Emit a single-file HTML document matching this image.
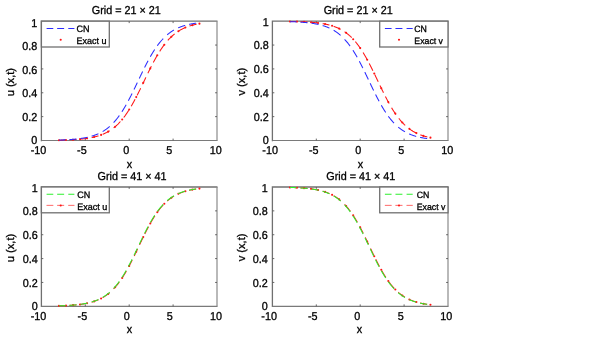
<!DOCTYPE html>
<html lang="en"><head><meta charset="utf-8"><title>Grid comparison: CN vs Exact</title>
<style>
html,body{margin:0;padding:0;background:#fff;}
body{width:602px;height:340px;overflow:hidden;}
svg{display:block;}
svg text{text-rendering:geometricPrecision;font-family:"Liberation Sans",Arial,Helvetica,sans-serif;fill:#000;stroke:#000;stroke-width:0.3px;}
</style></head><body>
<svg width="602" height="340" viewBox="0 0 602 340">
<rect width="602" height="340" fill="#fff"/>
<g>
<path d="M41.4 141.15V21.2H217.5" fill="none" stroke="#707070" stroke-width="1.3" stroke-linejoin="miter"/>
<path d="M41.4 140.5H217.55" fill="none" stroke="#7a7a7a" stroke-width="1.2"/>
<path d="M217 21.2V140.5" fill="none" stroke="#868686" stroke-width="1.15"/>
<path d="M85.3 140.5v-1.9M85.3 21.2v1.9" stroke="#585858" stroke-width="0.9" fill="none"/>
<path d="M129.2 140.5v-1.9M129.2 21.2v1.9" stroke="#585858" stroke-width="0.9" fill="none"/>
<path d="M173.1 140.5v-1.9M173.1 21.2v1.9" stroke="#585858" stroke-width="0.9" fill="none"/>
<path d="M41.4 45.06h1.9M217 45.06h-1.9" stroke="#585858" stroke-width="0.9" fill="none"/>
<path d="M41.4 68.92h1.9M217 68.92h-1.9" stroke="#585858" stroke-width="0.9" fill="none"/>
<path d="M41.4 92.78h1.9M217 92.78h-1.9" stroke="#585858" stroke-width="0.9" fill="none"/>
<path d="M41.4 116.64h1.9M217 116.64h-1.9" stroke="#585858" stroke-width="0.9" fill="none"/>
<path d="M58.96 140.19L59.18 140.19L59.4 140.18L59.62 140.18L59.84 140.17L60.06 140.17L60.28 140.16L60.5 140.16L60.72 140.15L60.94 140.15L61.16 140.14L61.37 140.14L61.59 140.13L61.81 140.13L62.03 140.12L62.25 140.11L62.47 140.11L62.69 140.1L62.91 140.1L63.13 140.09L63.35 140.08L63.57 140.08L63.79 140.07L64.01 140.06L64.23 140.06L64.45 140.05L64.67 140.04L64.89 140.04L65.11 140.03L65.33 140.02L65.55 140.02M69.5 139.86L69.72 139.85L69.94 139.84L70.15 139.83L70.37 139.82L70.59 139.81L70.81 139.8L71.03 139.79L71.25 139.78L71.47 139.77L71.69 139.76L71.91 139.74L72.13 139.73L72.35 139.72L72.57 139.71L72.79 139.7L73.01 139.69L73.23 139.67L73.45 139.66L73.67 139.65L73.89 139.63L74.11 139.62L74.32 139.61L74.54 139.59L74.76 139.58L74.98 139.57L75.2 139.55L75.42 139.54L75.64 139.52L75.86 139.51L76.08 139.49L76.3 139.48L76.52 139.46M80.47 139.13L80.69 139.11L80.91 139.09L81.13 139.07L81.35 139.05L81.57 139.03L81.79 139L82.01 138.98L82.23 138.96L82.45 138.93L82.67 138.91L82.89 138.89L83.1 138.86L83.32 138.84L83.54 138.81L83.76 138.78L83.98 138.76L84.2 138.73L84.42 138.7L84.64 138.68L84.86 138.65L85.08 138.62L85.3 138.59L85.52 138.56L85.74 138.53L85.96 138.5L86.18 138.47L86.4 138.44L86.62 138.41L86.84 138.38L87.06 138.35L87.28 138.32L87.5 138.28M91.67 137.55L91.88 137.51L92.1 137.46L92.32 137.41L92.54 137.37L92.76 137.32L92.98 137.27L93.2 137.22L93.42 137.18L93.64 137.13L93.86 137.07L94.08 137.02L94.3 136.97L94.52 136.92L94.74 136.86L94.96 136.81L95.18 136.75L95.4 136.7L95.62 136.64L95.84 136.58L96.06 136.53L96.28 136.47L96.49 136.41L96.71 136.34L96.93 136.28L97.15 136.22L97.37 136.16L97.59 136.09L97.81 136.03L98.03 135.96L98.25 135.89L98.47 135.82M102.64 134.32L102.86 134.23L103.08 134.14L103.3 134.05L103.52 133.95L103.74 133.86L103.96 133.76L104.18 133.66L104.4 133.56L104.62 133.46L104.84 133.36L105.05 133.25L105.27 133.15L105.49 133.04L105.71 132.93L105.93 132.82L106.15 132.71L106.37 132.6L106.59 132.49L106.81 132.37L107.03 132.25L107.25 132.14L107.47 132.02L107.69 131.89L107.91 131.77L108.13 131.65L108.35 131.52L108.57 131.39L108.79 131.26L109.01 131.13L109.23 130.99L109.44 130.86L109.66 130.72M113.62 127.94L113.83 127.77L114.05 127.59L114.27 127.41L114.49 127.23L114.71 127.05L114.93 126.87L115.15 126.68L115.37 126.49L115.59 126.3L115.81 126.11L116.03 125.91L116.25 125.71L116.47 125.51L116.69 125.31L116.91 125.11L117.13 124.9L117.35 124.69L117.57 124.48L117.79 124.26L118.01 124.05L118.22 123.83L118.44 123.61L118.66 123.38L118.88 123.16L119.1 122.93L119.32 122.7L119.54 122.46L119.76 122.23L119.98 121.99L120.2 121.75L120.42 121.5M123.71 117.53L123.93 117.25L124.15 116.96L124.37 116.67L124.59 116.37L124.81 116.07L125.03 115.78L125.25 115.47L125.47 115.17L125.69 114.86L125.91 114.55L126.13 114.24L126.35 113.92L126.57 113.6L126.79 113.28L127 112.96L127.22 112.63L127.44 112.3L127.66 111.97L127.88 111.64L128.1 111.3L128.32 110.96L128.54 110.62L128.76 110.27M131.18 106.3L131.39 105.93L131.61 105.55L131.83 105.17L132.05 104.79L132.27 104.4L132.49 104.01L132.71 103.62L132.93 103.23L133.15 102.84L133.37 102.44L133.59 102.04L133.81 101.64L134.03 101.24L134.25 100.83L134.47 100.43L134.69 100.02L134.91 99.6L135.13 99.19M137.1 95.38L137.32 94.95L137.54 94.52L137.76 94.09L137.98 93.65L138.2 93.21L138.42 92.77L138.64 92.33L138.86 91.89L139.08 91.45L139.3 91.01L139.52 90.56L139.74 90.11L139.96 89.67L140.17 89.22L140.39 88.77L140.61 88.32M142.59 84.23L142.81 83.78L143.03 83.32L143.25 82.86L143.47 82.41L143.69 81.95L143.91 81.49L144.13 81.03L144.35 80.58L144.56 80.12L144.78 79.66L145 79.2L145.22 78.74L145.44 78.29L145.66 77.83L145.88 77.37M147.86 73.29L148.08 72.84L148.3 72.39L148.52 71.94L148.74 71.5L148.96 71.05L149.17 70.61L149.39 70.16L149.61 69.72L149.83 69.28L150.05 68.84L150.27 68.4L150.49 67.96L150.71 67.53L150.93 67.09L151.15 66.66L151.37 66.23M153.34 62.43L153.56 62.01L153.78 61.6L154 61.19L154.22 60.79L154.44 60.38L154.66 59.98L154.88 59.58L155.1 59.18L155.32 58.78L155.54 58.39L155.76 58L155.98 57.61L156.2 57.22L156.42 56.84L156.64 56.45L156.86 56.07L157.08 55.7L157.3 55.32M159.71 51.36L159.93 51.01L160.15 50.67L160.37 50.33L160.59 50L160.81 49.66L161.03 49.33L161.25 49L161.47 48.68L161.69 48.35L161.91 48.03L162.12 47.72L162.34 47.4L162.56 47.09L162.78 46.78L163 46.47L163.22 46.17L163.44 45.86L163.66 45.57L163.88 45.27L164.1 44.98L164.32 44.68L164.54 44.4M167.83 40.39L168.05 40.15L168.27 39.9L168.49 39.66L168.71 39.43L168.93 39.19L169.15 38.96L169.37 38.73L169.59 38.5L169.81 38.27L170.03 38.05L170.25 37.83L170.47 37.61L170.69 37.39L170.91 37.18L171.12 36.97L171.34 36.76L171.56 36.55L171.78 36.35L172 36.15L172.22 35.95L172.44 35.75L172.66 35.55L172.88 35.36L173.1 35.17L173.32 34.98L173.54 34.8L173.76 34.61L173.98 34.43L174.2 34.25L174.42 34.07L174.64 33.9M178.59 31.09L178.81 30.95L179.03 30.81L179.25 30.68L179.47 30.55L179.69 30.41L179.9 30.28L180.12 30.16L180.34 30.03L180.56 29.91L180.78 29.78L181 29.66L181.22 29.54L181.44 29.42L181.66 29.31L181.88 29.19L182.1 29.08L182.32 28.96L182.54 28.85L182.76 28.74L182.98 28.64L183.2 28.53L183.42 28.43L183.64 28.32L183.86 28.22L184.07 28.12L184.29 28.02L184.51 27.92L184.73 27.83L184.95 27.73L185.17 27.64L185.39 27.54L185.61 27.45M189.56 26L189.78 25.93L190 25.86L190.22 25.8L190.44 25.73L190.66 25.66L190.88 25.6L191.1 25.53L191.32 25.47L191.54 25.41L191.76 25.34L191.98 25.28L192.2 25.22L192.42 25.16L192.64 25.1L192.86 25.05L193.07 24.99L193.29 24.93L193.51 24.88L193.73 24.82L193.95 24.77L194.17 24.72L194.39 24.67L194.61 24.62L194.83 24.56L195.05 24.51L195.27 24.47L195.49 24.42L195.71 24.37L195.93 24.32L196.15 24.28L196.37 24.23L196.59 24.19" fill="none" stroke="#ff1414" stroke-width="1.05"/>
<circle cx="58.96" cy="140.19" r="1.05" fill="#ff1414"/>
<circle cx="65.98" cy="140" r="1.05" fill="#ff1414"/>
<circle cx="73.01" cy="139.69" r="1.05" fill="#ff1414"/>
<circle cx="80.03" cy="139.17" r="1.05" fill="#ff1414"/>
<circle cx="87.06" cy="138.35" r="1.05" fill="#ff1414"/>
<circle cx="94.08" cy="137.02" r="1.05" fill="#ff1414"/>
<circle cx="101.1" cy="134.92" r="1.05" fill="#ff1414"/>
<circle cx="108.13" cy="131.65" r="1.05" fill="#ff1414"/>
<circle cx="115.15" cy="126.68" r="1.05" fill="#ff1414"/>
<circle cx="122.18" cy="119.46" r="1.05" fill="#ff1414"/>
<circle cx="129.2" cy="109.57" r="1.05" fill="#ff1414"/>
<circle cx="136.22" cy="97.09" r="1.05" fill="#ff1414"/>
<circle cx="143.25" cy="82.86" r="1.05" fill="#ff1414"/>
<circle cx="150.27" cy="68.4" r="1.05" fill="#ff1414"/>
<circle cx="157.3" cy="55.32" r="1.05" fill="#ff1414"/>
<circle cx="164.32" cy="44.68" r="1.05" fill="#ff1414"/>
<circle cx="171.34" cy="36.76" r="1.05" fill="#ff1414"/>
<circle cx="178.37" cy="31.23" r="1.05" fill="#ff1414"/>
<circle cx="185.39" cy="27.54" r="1.05" fill="#ff1414"/>
<circle cx="192.42" cy="25.16" r="1.05" fill="#ff1414"/>
<circle cx="199.44" cy="23.66" r="1.05" fill="#ff1414"/>
<path d="M58.96 140.06L59.18 140.05L59.4 140.04L59.62 140.04L59.84 140.03L60.06 140.02L60.28 140.01L60.5 140.01L60.72 140L60.94 139.99L61.16 139.98L61.37 139.98L61.59 139.97L61.81 139.96L62.03 139.95L62.25 139.94L62.47 139.93L62.69 139.92L62.91 139.92L63.13 139.91L63.35 139.9L63.57 139.89L63.79 139.88L64.01 139.87L64.23 139.86L64.45 139.85L64.67 139.84L64.89 139.83L65.11 139.82L65.33 139.81L65.55 139.8M69.5 139.57L69.72 139.56L69.94 139.54L70.15 139.53L70.37 139.51L70.59 139.5L70.81 139.48L71.03 139.47L71.25 139.45L71.47 139.43L71.69 139.42L71.91 139.4L72.13 139.38L72.35 139.37L72.57 139.35L72.79 139.33L73.01 139.31L73.23 139.29L73.45 139.28L73.67 139.26L73.89 139.24L74.11 139.22L74.32 139.2L74.54 139.18L74.76 139.16L74.98 139.14L75.2 139.12L75.42 139.1L75.64 139.07L75.86 139.05L76.08 139.03L76.3 139.01L76.52 138.98M80.47 138.5L80.69 138.47L80.91 138.44L81.13 138.41L81.35 138.38L81.57 138.35L81.79 138.31L82.01 138.28L82.23 138.24L82.45 138.21L82.67 138.18L82.89 138.14L83.1 138.1L83.32 138.07L83.54 138.03L83.76 137.99L83.98 137.95L84.2 137.91L84.42 137.88L84.64 137.84L84.86 137.79L85.08 137.75L85.3 137.71L85.52 137.67L85.74 137.63L85.96 137.58L86.18 137.54L86.4 137.49L86.62 137.45L86.84 137.4L87.06 137.35L87.28 137.3L87.5 137.26M91.67 136.19L91.88 136.12L92.1 136.06L92.32 135.99L92.54 135.92L92.76 135.85L92.98 135.78L93.2 135.71L93.42 135.64L93.64 135.57L93.86 135.49L94.08 135.42L94.3 135.34L94.52 135.26L94.74 135.19L94.96 135.11L95.18 135.03L95.4 134.95L95.62 134.86L95.84 134.78L96.06 134.69L96.28 134.61L96.49 134.52L96.71 134.43L96.93 134.34L97.15 134.25L97.37 134.16L97.59 134.06L97.81 133.97L98.03 133.87L98.25 133.78L98.47 133.68M102.64 131.52L102.86 131.39L103.08 131.26L103.3 131.12L103.52 130.99L103.74 130.85L103.96 130.71L104.18 130.57L104.4 130.43L104.62 130.29L104.84 130.14L105.05 129.99L105.27 129.84L105.49 129.69L105.71 129.54L105.93 129.38L106.15 129.23L106.37 129.07L106.59 128.91L106.81 128.74L107.03 128.58L107.25 128.41L107.47 128.24L107.69 128.07L107.91 127.9L108.13 127.72L108.35 127.54L108.57 127.36L108.79 127.18L109.01 126.99L109.23 126.81L109.44 126.62L109.66 126.43M113.62 122.58L113.83 122.34L114.05 122.1L114.27 121.86L114.49 121.61L114.71 121.37L114.93 121.12L115.15 120.86L115.37 120.61L115.59 120.35L115.81 120.09L116.03 119.83L116.25 119.56L116.47 119.29L116.69 119.02L116.91 118.74L117.13 118.47L117.35 118.19L117.57 117.9L117.79 117.62L118.01 117.33L118.22 117.04L118.44 116.75L118.66 116.45L118.88 116.15L119.1 115.85L119.32 115.55M121.96 111.68L122.18 111.34L122.4 110.99L122.62 110.65L122.83 110.3L123.05 109.95L123.27 109.6L123.49 109.24L123.71 108.88L123.93 108.52L124.15 108.15L124.37 107.79L124.59 107.42L124.81 107.05L125.03 106.67L125.25 106.3L125.47 105.92L125.69 105.53L125.91 105.15L126.13 104.76M128.32 100.77L128.54 100.35L128.76 99.94L128.98 99.52L129.2 99.11L129.42 98.69L129.64 98.27L129.86 97.84L130.08 97.42L130.3 96.99L130.52 96.56L130.74 96.13L130.96 95.69L131.18 95.26L131.39 94.82L131.61 94.39L131.83 93.95L132.05 93.51M134.03 89.48L134.25 89.03L134.47 88.57L134.69 88.12L134.91 87.66L135.13 87.21L135.35 86.75L135.57 86.29L135.78 85.83L136 85.37L136.22 84.91L136.44 84.45L136.66 83.99L136.88 83.53L137.1 83.07L137.32 82.61M139.3 78.45L139.52 77.99L139.74 77.52L139.96 77.06L140.17 76.6L140.39 76.14L140.61 75.69L140.83 75.23L141.05 74.77L141.27 74.31L141.49 73.86L141.71 73.4L141.93 72.95L142.15 72.49L142.37 72.04L142.59 71.59M144.56 67.58L144.78 67.14L145 66.7L145.22 66.27L145.44 65.83L145.66 65.4L145.88 64.97L146.1 64.54L146.32 64.11L146.54 63.69L146.76 63.27L146.98 62.84L147.2 62.43L147.42 62.01L147.64 61.59L147.86 61.18L148.08 60.77M150.27 56.78L150.49 56.4L150.71 56.01L150.93 55.63L151.15 55.25L151.37 54.88L151.59 54.5L151.81 54.13L152.03 53.77L152.25 53.4L152.47 53.04L152.69 52.68L152.91 52.32L153.13 51.96L153.34 51.61L153.56 51.26L153.78 50.91L154 50.57L154.22 50.23L154.44 49.89L154.66 49.55M157.3 45.73L157.52 45.43L157.73 45.13L157.95 44.84L158.17 44.54L158.39 44.25L158.61 43.97L158.83 43.68L159.05 43.4L159.27 43.12L159.49 42.85L159.71 42.57L159.93 42.3L160.15 42.03L160.37 41.77L160.59 41.51L160.81 41.25L161.03 40.99L161.25 40.74L161.47 40.48L161.69 40.23L161.91 39.99L162.12 39.74L162.34 39.5L162.56 39.26L162.78 39.03L163 38.79L163.22 38.56M167.17 34.82L167.39 34.63L167.61 34.45L167.83 34.27L168.05 34.09L168.27 33.91L168.49 33.74L168.71 33.56L168.93 33.39L169.15 33.22L169.37 33.06L169.59 32.89L169.81 32.73L170.03 32.57L170.25 32.41L170.47 32.25L170.69 32.1L170.91 31.95L171.12 31.8L171.34 31.65L171.56 31.5L171.78 31.36L172 31.21L172.22 31.07L172.44 30.93L172.66 30.79L172.88 30.66L173.1 30.52L173.32 30.39L173.54 30.26L173.76 30.13L173.98 30.01M178.15 27.89L178.37 27.79L178.59 27.69L178.81 27.6L179.03 27.5L179.25 27.41L179.47 27.32L179.69 27.23L179.9 27.14L180.12 27.06L180.34 26.97L180.56 26.89L180.78 26.8L181 26.72L181.22 26.64L181.44 26.56L181.66 26.48L181.88 26.4L182.1 26.33L182.32 26.25L182.54 26.18L182.76 26.1L182.98 26.03L183.2 25.96L183.42 25.89L183.64 25.82L183.86 25.75L184.07 25.68L184.29 25.62L184.51 25.55L184.73 25.49L184.95 25.42L185.17 25.36M189.12 24.38L189.34 24.33L189.56 24.28L189.78 24.24L190 24.19L190.22 24.14L190.44 24.1L190.66 24.06L190.88 24.01L191.1 23.97L191.32 23.93L191.54 23.89L191.76 23.85L191.98 23.81L192.2 23.77L192.42 23.73L192.64 23.69L192.86 23.66L193.07 23.62L193.29 23.58L193.51 23.55L193.73 23.51L193.95 23.48L194.17 23.44L194.39 23.41L194.61 23.37L194.83 23.34L195.05 23.31L195.27 23.28L195.49 23.25L195.71 23.21L195.93 23.18L196.15 23.15" fill="none" stroke="#2a2aff" stroke-width="1.05"/>
<text transform="translate(38.5 154.1) scale(1 1.06)" text-anchor="middle" font-size="10.8">-10</text>
<text transform="translate(81.9 154.1) scale(1 1.06)" text-anchor="middle" font-size="10.8">-5</text>
<text transform="translate(126.3 154.1) scale(1 1.06)" text-anchor="middle" font-size="10.8">0</text>
<text transform="translate(169.3 154.1) scale(1 1.06)" text-anchor="middle" font-size="10.8">5</text>
<text transform="translate(215.7 154.1) scale(1 1.06)" text-anchor="middle" font-size="10.8">10</text>
<text transform="translate(37.35 26.7) scale(1 1.06)" text-anchor="end" font-size="10.8">1</text>
<text transform="translate(37.35 49.66) scale(1 1.06)" text-anchor="end" font-size="10.8">0.8</text>
<text transform="translate(37.35 73.52) scale(1 1.06)" text-anchor="end" font-size="10.8">0.6</text>
<text transform="translate(37.35 97.38) scale(1 1.06)" text-anchor="end" font-size="10.8">0.4</text>
<text transform="translate(37.35 121.24) scale(1 1.06)" text-anchor="end" font-size="10.8">0.2</text>
<text transform="translate(37.35 144.1) scale(1 1.06)" text-anchor="end" font-size="10.8">0</text>
<text transform="translate(126.3 14.45) scale(1 1.06)" text-anchor="middle" font-size="10.8">Grid = 21 × 21</text>
<text transform="translate(129.5 167.5) scale(1 1.06)" text-anchor="middle" font-size="10.8">x</text>
<text transform="translate(14.4 82.19) rotate(-90) scale(1 1.0)" text-anchor="middle" font-size="11.1">u (x,t)</text>
<rect x="41.4" y="21.2" width="67.9" height="25.8" fill="#fff" stroke="#707070" stroke-width="1.3"/>
<path d="M46.6 28.4L46.88 28.4L47.16 28.4L47.43 28.4L47.71 28.4L47.99 28.4L48.27 28.4L48.55 28.4L48.82 28.4L49.1 28.4L49.38 28.4L49.66 28.4L49.94 28.4L50.21 28.4L50.49 28.4L50.77 28.4L51.05 28.4L51.33 28.4L51.6 28.4L51.88 28.4L52.16 28.4L52.44 28.4L52.72 28.4L52.99 28.4L53.27 28.4M57.16 28.4L57.44 28.4L57.72 28.4L58 28.4L58.28 28.4L58.55 28.4L58.83 28.4L59.11 28.4L59.39 28.4L59.67 28.4L59.94 28.4L60.22 28.4L60.5 28.4L60.78 28.4L61.06 28.4L61.33 28.4L61.61 28.4L61.89 28.4L62.17 28.4L62.45 28.4L62.72 28.4L63 28.4L63.28 28.4L63.56 28.4L63.84 28.4L64.11 28.4M68.28 28.4L68.56 28.4L68.84 28.4L69.12 28.4L69.4 28.4L69.67 28.4L69.95 28.4L70.23 28.4L70.51 28.4L70.79 28.4L71.06 28.4L71.34 28.4L71.62 28.4L71.9 28.4L72.18 28.4L72.45 28.4L72.73 28.4L73.01 28.4L73.29 28.4L73.57 28.4L73.84 28.4L74.12 28.4L74.4 28.4" stroke="#2a2aff" stroke-width="1.05" fill="none"/>
<circle cx="60.7" cy="39.7" r="1.05" fill="#ff1414"/>
<text transform="translate(76.6 32.2) scale(1 1.04)" font-size="9.0">CN</text>
<text transform="translate(76.6 43.7) scale(1 1.04)" font-size="9.0">Exact u</text>
</g>
<g>
<path d="M272.4 141.15V21.2H448.5" fill="none" stroke="#707070" stroke-width="1.3" stroke-linejoin="miter"/>
<path d="M272.4 140.5H448.55" fill="none" stroke="#7a7a7a" stroke-width="1.2"/>
<path d="M448 21.2V140.5" fill="none" stroke="#868686" stroke-width="1.15"/>
<path d="M316.3 140.5v-1.9M316.3 21.2v1.9" stroke="#585858" stroke-width="0.9" fill="none"/>
<path d="M360.2 140.5v-1.9M360.2 21.2v1.9" stroke="#585858" stroke-width="0.9" fill="none"/>
<path d="M404.1 140.5v-1.9M404.1 21.2v1.9" stroke="#585858" stroke-width="0.9" fill="none"/>
<path d="M272.4 45.06h1.9M448 45.06h-1.9" stroke="#585858" stroke-width="0.9" fill="none"/>
<path d="M272.4 68.92h1.9M448 68.92h-1.9" stroke="#585858" stroke-width="0.9" fill="none"/>
<path d="M272.4 92.78h1.9M448 92.78h-1.9" stroke="#585858" stroke-width="0.9" fill="none"/>
<path d="M272.4 116.64h1.9M448 116.64h-1.9" stroke="#585858" stroke-width="0.9" fill="none"/>
<path d="M289.96 21.45L290.18 21.45L290.4 21.46L290.62 21.46L290.84 21.46L291.06 21.47L291.28 21.47L291.5 21.48L291.72 21.48L291.94 21.48L292.15 21.49L292.37 21.49L292.59 21.5L292.81 21.5L293.03 21.51L293.25 21.51L293.47 21.52L293.69 21.52L293.91 21.53L294.13 21.53L294.35 21.54L294.57 21.54L294.79 21.55L295.01 21.55L295.23 21.56L295.45 21.56L295.67 21.57L295.89 21.58L296.11 21.58L296.33 21.59L296.54 21.59M300.5 21.72L300.72 21.73L300.94 21.73L301.15 21.74L301.37 21.75L301.59 21.76L301.81 21.77L302.03 21.78L302.25 21.79L302.47 21.8L302.69 21.8L302.91 21.81L303.13 21.82L303.35 21.83L303.57 21.84L303.79 21.85L304.01 21.86L304.23 21.87L304.45 21.88L304.67 21.89L304.89 21.91L305.11 21.92L305.32 21.93L305.54 21.94L305.76 21.95L305.98 21.96L306.2 21.97L306.42 21.98L306.64 22L306.86 22.01L307.08 22.02L307.3 22.03L307.52 22.05M311.47 22.32L311.69 22.33L311.91 22.35L312.13 22.37L312.35 22.39L312.57 22.41L312.79 22.42L313.01 22.44L313.23 22.46L313.45 22.48L313.67 22.5L313.89 22.52L314.1 22.54L314.32 22.56L314.54 22.58L314.76 22.6L314.98 22.63L315.2 22.65L315.42 22.67L315.64 22.69L315.86 22.72L316.08 22.74L316.3 22.76L316.52 22.79L316.74 22.81L316.96 22.84L317.18 22.86L317.4 22.89L317.62 22.91L317.84 22.94L318.06 22.96L318.28 22.99L318.5 23.02M322.67 23.63L322.88 23.66L323.1 23.7L323.32 23.74L323.54 23.78L323.76 23.82L323.98 23.86L324.2 23.9L324.42 23.94L324.64 23.98L324.86 24.02L325.08 24.06L325.3 24.11L325.52 24.15L325.74 24.2L325.96 24.24L326.18 24.29L326.4 24.34L326.62 24.38L326.84 24.43L327.06 24.48L327.27 24.53L327.49 24.58L327.71 24.63L327.93 24.68L328.15 24.73L328.37 24.79L328.59 24.84L328.81 24.9L329.03 24.95L329.25 25.01L329.47 25.07M333.64 26.33L333.86 26.4L334.08 26.48L334.3 26.56L334.52 26.64L334.74 26.72L334.96 26.8L335.18 26.89L335.4 26.97L335.62 27.06L335.84 27.14L336.05 27.23L336.27 27.32L336.49 27.41L336.71 27.5L336.93 27.59L337.15 27.69L337.37 27.78L337.59 27.88L337.81 27.98L338.03 28.08L338.25 28.18L338.47 28.28L338.69 28.38L338.91 28.49L339.13 28.59L339.35 28.7L339.57 28.81L339.79 28.92L340.01 29.03L340.23 29.15L340.44 29.26L340.66 29.38M344.62 31.77L344.83 31.92L345.05 32.07L345.27 32.22L345.49 32.38L345.71 32.54L345.93 32.69L346.15 32.86L346.37 33.02L346.59 33.18L346.81 33.35L347.03 33.52L347.25 33.69L347.47 33.87L347.69 34.04L347.91 34.22L348.13 34.4L348.35 34.58L348.57 34.77L348.79 34.95L349.01 35.14L349.22 35.34L349.44 35.53L349.66 35.72L349.88 35.92L350.1 36.12L350.32 36.33L350.54 36.53L350.76 36.74L350.98 36.95L351.2 37.16L351.42 37.37L351.64 37.59M355.37 41.67L355.59 41.93L355.81 42.2L356.03 42.46L356.25 42.74L356.47 43.01L356.69 43.29L356.91 43.56L357.13 43.85L357.35 44.13L357.57 44.42L357.79 44.71L358 45L358.22 45.3L358.44 45.59L358.66 45.9L358.88 46.2L359.1 46.51L359.32 46.82L359.54 47.13L359.76 47.44L359.98 47.76L360.2 48.08L360.42 48.4L360.64 48.73M363.05 52.49L363.27 52.84L363.49 53.2L363.71 53.57L363.93 53.93L364.15 54.3L364.37 54.67L364.59 55.04L364.81 55.42L365.03 55.8L365.25 56.18L365.47 56.56L365.69 56.95L365.91 57.33L366.13 57.72L366.35 58.12L366.57 58.51L366.78 58.91L367 59.31L367.22 59.71M369.2 63.42L369.42 63.84L369.64 64.26L369.86 64.69L370.08 65.12L370.3 65.55L370.52 65.98L370.74 66.41L370.96 66.84L371.17 67.28L371.39 67.72L371.61 68.16L371.83 68.6L372.05 69.04L372.27 69.48L372.49 69.92L372.71 70.37L372.93 70.82M374.69 74.43L374.91 74.88L375.13 75.34L375.35 75.8L375.56 76.25L375.78 76.71L376 77.17L376.22 77.63L376.44 78.09L376.66 78.55L376.88 79.01L377.1 79.47L377.32 79.93L377.54 80.39L377.76 80.85L377.98 81.31L378.2 81.77M379.95 85.45L380.17 85.9L380.39 86.36L380.61 86.82L380.83 87.27L381.05 87.73L381.27 88.18L381.49 88.63L381.71 89.08L381.93 89.54L382.15 89.99L382.37 90.44L382.59 90.88L382.81 91.33L383.03 91.78L383.25 92.22L383.47 92.66M385.44 96.58L385.66 97.01L385.88 97.44L386.1 97.86L386.32 98.28L386.54 98.7L386.76 99.12L386.98 99.54L387.2 99.95L387.42 100.36L387.64 100.77L387.86 101.18L388.08 101.59L388.3 101.99L388.52 102.39L388.73 102.79L388.95 103.19L389.17 103.58M391.59 107.77L391.81 108.13L392.03 108.5L392.25 108.86L392.47 109.21L392.69 109.57L392.91 109.92L393.12 110.27L393.34 110.62L393.56 110.96L393.78 111.3L394 111.64L394.22 111.98L394.44 112.31L394.66 112.64L394.88 112.97L395.1 113.3L395.32 113.62L395.54 113.94L395.76 114.26L395.98 114.57M398.83 118.41L399.05 118.69L399.27 118.96L399.49 119.24L399.71 119.5L399.93 119.77L400.15 120.03L400.37 120.29L400.59 120.55L400.81 120.81L401.03 121.06L401.25 121.31L401.47 121.56L401.69 121.8L401.9 122.04L402.12 122.28L402.34 122.52L402.56 122.75L402.78 122.99L403 123.22L403.22 123.44L403.44 123.67L403.66 123.89L403.88 124.11L404.1 124.33L404.32 124.54L404.54 124.75L404.76 124.96L404.98 125.17L405.2 125.37M409.37 128.84L409.59 129.01L409.81 129.16L410.03 129.32L410.25 129.48L410.47 129.63L410.68 129.78L410.9 129.93L411.12 130.08L411.34 130.23L411.56 130.37L411.78 130.51L412 130.65L412.22 130.79L412.44 130.93L412.66 131.06L412.88 131.2L413.1 131.33L413.32 131.46L413.54 131.59L413.76 131.71L413.98 131.84L414.2 131.96L414.42 132.08L414.64 132.2L414.86 132.32L415.07 132.44L415.29 132.55L415.51 132.67L415.73 132.78L415.95 132.89L416.17 133L416.39 133.11M420.34 134.81L420.56 134.9L420.78 134.98L421 135.06L421.22 135.14L421.44 135.22L421.66 135.3L421.88 135.37L422.1 135.45L422.32 135.52L422.54 135.59L422.76 135.67L422.98 135.74L423.2 135.81L423.42 135.88L423.64 135.94L423.86 136.01L424.07 136.08L424.29 136.14L424.51 136.21L424.73 136.27L424.95 136.33L425.17 136.4L425.39 136.46L425.61 136.52L425.83 136.57L426.05 136.63L426.27 136.69L426.49 136.75L426.71 136.8L426.93 136.86L427.15 136.91L427.37 136.97" fill="none" stroke="#ff1414" stroke-width="1.05"/>
<circle cx="289.96" cy="21.45" r="1.05" fill="#ff1414"/>
<circle cx="296.98" cy="21.61" r="1.05" fill="#ff1414"/>
<circle cx="304.01" cy="21.86" r="1.05" fill="#ff1414"/>
<circle cx="311.03" cy="22.28" r="1.05" fill="#ff1414"/>
<circle cx="318.06" cy="22.96" r="1.05" fill="#ff1414"/>
<circle cx="325.08" cy="24.06" r="1.05" fill="#ff1414"/>
<circle cx="332.1" cy="25.82" r="1.05" fill="#ff1414"/>
<circle cx="339.13" cy="28.59" r="1.05" fill="#ff1414"/>
<circle cx="346.15" cy="32.86" r="1.05" fill="#ff1414"/>
<circle cx="353.18" cy="39.18" r="1.05" fill="#ff1414"/>
<circle cx="360.2" cy="48.08" r="1.05" fill="#ff1414"/>
<circle cx="367.22" cy="59.71" r="1.05" fill="#ff1414"/>
<circle cx="374.25" cy="73.52" r="1.05" fill="#ff1414"/>
<circle cx="381.27" cy="88.18" r="1.05" fill="#ff1414"/>
<circle cx="388.3" cy="101.99" r="1.05" fill="#ff1414"/>
<circle cx="395.32" cy="113.62" r="1.05" fill="#ff1414"/>
<circle cx="402.34" cy="122.52" r="1.05" fill="#ff1414"/>
<circle cx="409.37" cy="128.84" r="1.05" fill="#ff1414"/>
<circle cx="416.39" cy="133.11" r="1.05" fill="#ff1414"/>
<circle cx="423.42" cy="135.88" r="1.05" fill="#ff1414"/>
<circle cx="430.44" cy="137.64" r="1.05" fill="#ff1414"/>
<path d="M289.96 21.65L290.18 21.66L290.4 21.66L290.62 21.67L290.84 21.68L291.06 21.68L291.28 21.69L291.5 21.7L291.72 21.71L291.94 21.72L292.15 21.72L292.37 21.73L292.59 21.74L292.81 21.75L293.03 21.76L293.25 21.77L293.47 21.77L293.69 21.78L293.91 21.79L294.13 21.8L294.35 21.81L294.57 21.82L294.79 21.83L295.01 21.84L295.23 21.85L295.45 21.86L295.67 21.87L295.89 21.88L296.11 21.89L296.33 21.9L296.54 21.91M300.5 22.14L300.72 22.15L300.94 22.17L301.15 22.18L301.37 22.2L301.59 22.21L301.81 22.23L302.03 22.25L302.25 22.26L302.47 22.28L302.69 22.3L302.91 22.31L303.13 22.33L303.35 22.35L303.57 22.37L303.79 22.38L304.01 22.4L304.23 22.42L304.45 22.44L304.67 22.46L304.89 22.48L305.11 22.5L305.32 22.52L305.54 22.54L305.76 22.56L305.98 22.58L306.2 22.6L306.42 22.62L306.64 22.64L306.86 22.67L307.08 22.69L307.3 22.71L307.52 22.74M311.47 23.22L311.69 23.25L311.91 23.28L312.13 23.32L312.35 23.35L312.57 23.38L312.79 23.41L313.01 23.45L313.23 23.48L313.45 23.52L313.67 23.55L313.89 23.59L314.1 23.63L314.32 23.66L314.54 23.7L314.76 23.74L314.98 23.78L315.2 23.82L315.42 23.86L315.64 23.9L315.86 23.94L316.08 23.98L316.3 24.02L316.52 24.07L316.74 24.11L316.96 24.15L317.18 24.2L317.4 24.24L317.62 24.29L317.84 24.34L318.06 24.39L318.28 24.43L318.5 24.48M322.67 25.57L322.88 25.63L323.1 25.7L323.32 25.77L323.54 25.83L323.76 25.9L323.98 25.97L324.2 26.05L324.42 26.12L324.64 26.19L324.86 26.27L325.08 26.34L325.3 26.42L325.52 26.5L325.74 26.58L325.96 26.66L326.18 26.74L326.4 26.82L326.62 26.9L326.84 26.99L327.06 27.07L327.27 27.16L327.49 27.25L327.71 27.34L327.93 27.43L328.15 27.52L328.37 27.62L328.59 27.71L328.81 27.81L329.03 27.9L329.25 28L329.47 28.1M333.64 30.29L333.86 30.42L334.08 30.55L334.3 30.69L334.52 30.82L334.74 30.96L334.96 31.1L335.18 31.24L335.4 31.38L335.62 31.53L335.84 31.68L336.05 31.83L336.27 31.98L336.49 32.13L336.71 32.29L336.93 32.44L337.15 32.6L337.37 32.76L337.59 32.92L337.81 33.09L338.03 33.26L338.25 33.43L338.47 33.6L338.69 33.77L338.91 33.95L339.13 34.12L339.35 34.3L339.57 34.48L339.79 34.67L340.01 34.85L340.23 35.04L340.44 35.23L340.66 35.43M344.62 39.31L344.83 39.55L345.05 39.79L345.27 40.04L345.49 40.28L345.71 40.53L345.93 40.79L346.15 41.04L346.37 41.3L346.59 41.56L346.81 41.82L347.03 42.09L347.25 42.36L347.47 42.63L347.69 42.9L347.91 43.18L348.13 43.46L348.35 43.74L348.57 44.02L348.79 44.31L349.01 44.6L349.22 44.89L349.44 45.19L349.66 45.49L349.88 45.79L350.1 46.09M352.96 50.3L353.18 50.64L353.4 50.98L353.62 51.33L353.83 51.68L354.05 52.03L354.27 52.39L354.49 52.75L354.71 53.11L354.93 53.47L355.15 53.84L355.37 54.21L355.59 54.58L355.81 54.95L356.03 55.33L356.25 55.71L356.47 56.09L356.69 56.47L356.91 56.86L357.13 57.25M359.32 61.26L359.54 61.68L359.76 62.09L359.98 62.51L360.2 62.93L360.42 63.35L360.64 63.77L360.86 64.2L361.08 64.63L361.3 65.06L361.52 65.49L361.74 65.92L361.96 66.35L362.18 66.79L362.39 67.23L362.61 67.66L362.83 68.11M364.81 72.13L365.03 72.58L365.25 73.04L365.47 73.49L365.69 73.95L365.91 74.4L366.13 74.86L366.35 75.32L366.57 75.78L366.78 76.24L367 76.7L367.22 77.16L367.44 77.62L367.66 78.08L367.88 78.54L368.1 79L368.32 79.46M370.08 83.16L370.3 83.62L370.52 84.08L370.74 84.54L370.96 85L371.17 85.46L371.39 85.92L371.61 86.38L371.83 86.84L372.05 87.3L372.27 87.75L372.49 88.21L372.71 88.66L372.93 89.12L373.15 89.57L373.37 90.02L373.59 90.47M375.56 94.47L375.78 94.91L376 95.35L376.22 95.78L376.44 96.21L376.66 96.64L376.88 97.07L377.1 97.5L377.32 97.93L377.54 98.35L377.76 98.77L377.98 99.19L378.2 99.61L378.42 100.02L378.64 100.44L378.86 100.85L379.08 101.26M381.27 105.23L381.49 105.61L381.71 105.99L381.93 106.37L382.15 106.75L382.37 107.12L382.59 107.49L382.81 107.86L383.03 108.23L383.25 108.59L383.47 108.95L383.69 109.31L383.91 109.67L384.13 110.02L384.34 110.37L384.56 110.72L384.78 111.06L385 111.4L385.22 111.74L385.44 112.08L385.66 112.42M388.3 116.21L388.52 116.51L388.73 116.81L388.95 117.1L389.17 117.39L389.39 117.68L389.61 117.96L389.83 118.24L390.05 118.52L390.27 118.8L390.49 119.07L390.71 119.34L390.93 119.61L391.15 119.88L391.37 120.14L391.59 120.4L391.81 120.66L392.03 120.91L392.25 121.17L392.47 121.42L392.69 121.66L392.91 121.91L393.12 122.15L393.34 122.39L393.56 122.63L393.78 122.86L394 123.09M398.17 127.03L398.39 127.22L398.61 127.4L398.83 127.58L399.05 127.75L399.27 127.93L399.49 128.1L399.71 128.27L399.93 128.44L400.15 128.61L400.37 128.78L400.59 128.94L400.81 129.1L401.03 129.26L401.25 129.41L401.47 129.57L401.69 129.72L401.9 129.87L402.12 130.02L402.34 130.17L402.56 130.32L402.78 130.46L403 130.6L403.22 130.74L403.44 130.88L403.66 131.01L403.88 131.15L404.1 131.28L404.32 131.41L404.54 131.54L404.76 131.67L404.98 131.8M409.15 133.89L409.37 133.99L409.59 134.08L409.81 134.18L410.03 134.27L410.25 134.36L410.47 134.45L410.68 134.54L410.9 134.63L411.12 134.71L411.34 134.8L411.56 134.88L411.78 134.96L412 135.04L412.22 135.12L412.44 135.2L412.66 135.28L412.88 135.36L413.1 135.43L413.32 135.51L413.54 135.58L413.76 135.65L413.98 135.73L414.2 135.8L414.42 135.87L414.64 135.93L414.86 136L415.07 136.07L415.29 136.13L415.51 136.2L415.73 136.26L415.95 136.33L416.17 136.39M420.12 137.36L420.34 137.41L420.56 137.46L420.78 137.5L421 137.55L421.22 137.59L421.44 137.63L421.66 137.68L421.88 137.72L422.1 137.76L422.32 137.8L422.54 137.84L422.76 137.88L422.98 137.92L423.2 137.96L423.42 138L423.64 138.04L423.86 138.07L424.07 138.11L424.29 138.15L424.51 138.18L424.73 138.22L424.95 138.25L425.17 138.29L425.39 138.32L425.61 138.35L425.83 138.38L426.05 138.42L426.27 138.45L426.49 138.48L426.71 138.51L426.93 138.54L427.15 138.57" fill="none" stroke="#2a2aff" stroke-width="1.05"/>
<text transform="translate(270.1 154.1) scale(1 1.06)" text-anchor="middle" font-size="10.8">-10</text>
<text transform="translate(313.8 154.1) scale(1 1.06)" text-anchor="middle" font-size="10.8">-5</text>
<text transform="translate(358.2 154.1) scale(1 1.06)" text-anchor="middle" font-size="10.8">0</text>
<text transform="translate(401.15 154.1) scale(1 1.06)" text-anchor="middle" font-size="10.8">5</text>
<text transform="translate(447.2 154.1) scale(1 1.06)" text-anchor="middle" font-size="10.8">10</text>
<text transform="translate(268.75 26.2) scale(1 1.06)" text-anchor="end" font-size="10.8">1</text>
<text transform="translate(268.75 49.16) scale(1 1.06)" text-anchor="end" font-size="10.8">0.8</text>
<text transform="translate(268.75 73.02) scale(1 1.06)" text-anchor="end" font-size="10.8">0.6</text>
<text transform="translate(268.75 96.88) scale(1 1.06)" text-anchor="end" font-size="10.8">0.4</text>
<text transform="translate(268.75 120.74) scale(1 1.06)" text-anchor="end" font-size="10.8">0.2</text>
<text transform="translate(268.75 143.6) scale(1 1.06)" text-anchor="end" font-size="10.8">0</text>
<text transform="translate(358.2 14.45) scale(1 1.06)" text-anchor="middle" font-size="10.8">Grid = 21 × 21</text>
<text transform="translate(360.5 167.5) scale(1 1.06)" text-anchor="middle" font-size="10.8">x</text>
<text transform="translate(245.4 81.65) rotate(-90) scale(1 1.0)" text-anchor="middle" font-size="11.1">v (x,t)</text>
<rect x="379.7" y="21.2" width="68.3" height="25.8" fill="#fff" stroke="#707070" stroke-width="1.3"/>
<path d="M384.9 28.4L385.18 28.4L385.46 28.4L385.73 28.4L386.01 28.4L386.29 28.4L386.57 28.4L386.85 28.4L387.12 28.4L387.4 28.4L387.68 28.4L387.96 28.4L388.24 28.4L388.51 28.4L388.79 28.4L389.07 28.4L389.35 28.4L389.63 28.4L389.9 28.4L390.18 28.4L390.46 28.4L390.74 28.4L391.02 28.4L391.29 28.4L391.57 28.4M395.46 28.4L395.74 28.4L396.02 28.4L396.3 28.4L396.58 28.4L396.85 28.4L397.13 28.4L397.41 28.4L397.69 28.4L397.97 28.4L398.24 28.4L398.52 28.4L398.8 28.4L399.08 28.4L399.36 28.4L399.63 28.4L399.91 28.4L400.19 28.4L400.47 28.4L400.75 28.4L401.02 28.4L401.3 28.4L401.58 28.4L401.86 28.4L402.14 28.4L402.41 28.4M406.58 28.4L406.86 28.4L407.14 28.4L407.42 28.4L407.7 28.4L407.97 28.4L408.25 28.4L408.53 28.4L408.81 28.4L409.09 28.4L409.36 28.4L409.64 28.4L409.92 28.4L410.2 28.4L410.48 28.4L410.75 28.4L411.03 28.4L411.31 28.4L411.59 28.4L411.87 28.4L412.14 28.4L412.42 28.4L412.7 28.4" stroke="#2a2aff" stroke-width="1.05" fill="none"/>
<circle cx="399" cy="39.7" r="1.05" fill="#ff1414"/>
<text transform="translate(414.3 32.2) scale(1 1.04)" font-size="8.75">CN</text>
<text transform="translate(414.3 43.7) scale(1 1.04)" font-size="8.75">Exact v</text>
</g>
<g>
<path d="M41.4 306.95V187H217.5" fill="none" stroke="#707070" stroke-width="1.3" stroke-linejoin="miter"/>
<path d="M41.4 306.3H217.55" fill="none" stroke="#7a7a7a" stroke-width="1.2"/>
<path d="M217 187V306.3" fill="none" stroke="#868686" stroke-width="1.15"/>
<path d="M85.3 306.3v-1.9M85.3 187v1.9" stroke="#585858" stroke-width="0.9" fill="none"/>
<path d="M129.2 306.3v-1.9M129.2 187v1.9" stroke="#585858" stroke-width="0.9" fill="none"/>
<path d="M173.1 306.3v-1.9M173.1 187v1.9" stroke="#585858" stroke-width="0.9" fill="none"/>
<path d="M41.4 210.86h1.9M217 210.86h-1.9" stroke="#585858" stroke-width="0.9" fill="none"/>
<path d="M41.4 234.72h1.9M217 234.72h-1.9" stroke="#585858" stroke-width="0.9" fill="none"/>
<path d="M41.4 258.58h1.9M217 258.58h-1.9" stroke="#585858" stroke-width="0.9" fill="none"/>
<path d="M41.4 282.44h1.9M217 282.44h-1.9" stroke="#585858" stroke-width="0.9" fill="none"/>
<path d="M58.96 305.87L59.18 305.87L59.4 305.86L59.62 305.85L59.84 305.85L60.06 305.84L60.28 305.83L60.5 305.82L60.72 305.82L60.94 305.81L61.16 305.8L61.37 305.79L61.59 305.79L61.81 305.78L62.03 305.77L62.25 305.76L62.47 305.75L62.69 305.75L62.91 305.74L63.13 305.73L63.35 305.72L63.57 305.71L63.79 305.7L64.01 305.69L64.23 305.68L64.45 305.67L64.67 305.66L64.89 305.65L65.11 305.64L65.33 305.63L65.55 305.62M69.5 305.41L69.72 305.39L69.94 305.38L70.15 305.36L70.37 305.35L70.59 305.33L70.81 305.32L71.03 305.3L71.25 305.29L71.47 305.27L71.69 305.26L71.91 305.24L72.13 305.22L72.35 305.21L72.57 305.19L72.79 305.17L73.01 305.16L73.23 305.14L73.45 305.12L73.67 305.1L73.89 305.08L74.11 305.06L74.32 305.05L74.54 305.03L74.76 305.01L74.98 304.99L75.2 304.97L75.42 304.95L75.64 304.93L75.86 304.9L76.08 304.88L76.3 304.86L76.52 304.84M80.47 304.38L80.69 304.35L80.91 304.32L81.13 304.29L81.35 304.25L81.57 304.22L81.79 304.19L82.01 304.16L82.23 304.13L82.45 304.09L82.67 304.06L82.89 304.02L83.1 303.99L83.32 303.95L83.54 303.92L83.76 303.88L83.98 303.84L84.2 303.81L84.42 303.77L84.64 303.73L84.86 303.69L85.08 303.65L85.3 303.61L85.52 303.57L85.74 303.53L85.96 303.49L86.18 303.44L86.4 303.4L86.62 303.36L86.84 303.31L87.06 303.26L87.28 303.22L87.5 303.17M91.67 302.14L91.88 302.08L92.1 302.01L92.32 301.95L92.54 301.88L92.76 301.82L92.98 301.75L93.2 301.68L93.42 301.61L93.64 301.54L93.86 301.47L94.08 301.4L94.3 301.32L94.52 301.25L94.74 301.17L94.96 301.1L95.18 301.02L95.4 300.94L95.62 300.86L95.84 300.78L96.06 300.7L96.28 300.61L96.49 300.53L96.71 300.44L96.93 300.36L97.15 300.27L97.37 300.18L97.59 300.09L97.81 300L98.03 299.9L98.25 299.81L98.47 299.71M102.64 297.62L102.86 297.49L103.08 297.37L103.3 297.24L103.52 297.11L103.74 296.98L103.96 296.84L104.18 296.71L104.4 296.57L104.62 296.43L104.84 296.29L105.05 296.14L105.27 296L105.49 295.85L105.71 295.7L105.93 295.55L106.15 295.4L106.37 295.25L106.59 295.09L106.81 294.93L107.03 294.77L107.25 294.61L107.47 294.44L107.69 294.28L107.91 294.11L108.13 293.94L108.35 293.76L108.57 293.59L108.79 293.41L109.01 293.23L109.23 293.05L109.44 292.87L109.66 292.68M113.62 288.94L113.83 288.71L114.05 288.47L114.27 288.24L114.49 288L114.71 287.76L114.93 287.51L115.15 287.27L115.37 287.02L115.59 286.76L115.81 286.51L116.03 286.25L116.25 285.99L116.47 285.73L116.69 285.47L116.91 285.2L117.13 284.93L117.35 284.65L117.57 284.38L117.79 284.1L118.01 283.82L118.22 283.53L118.44 283.25L118.66 282.96L118.88 282.66L119.1 282.37L119.32 282.07M122.18 277.95L122.4 277.61L122.62 277.27L122.83 276.93L123.05 276.59L123.27 276.24L123.49 275.89L123.71 275.54L123.93 275.18L124.15 274.82L124.37 274.46L124.59 274.1L124.81 273.73L125.03 273.37L125.25 273L125.47 272.62L125.69 272.25L125.91 271.87L126.13 271.49L126.35 271.1M128.76 266.73L128.98 266.32L129.2 265.91L129.42 265.49L129.64 265.07L129.86 264.66L130.08 264.23L130.3 263.81L130.52 263.39L130.74 262.96L130.96 262.53L131.18 262.1L131.39 261.67L131.61 261.23L131.83 260.8L132.05 260.36L132.27 259.92M134.25 255.91L134.47 255.46L134.69 255.01L134.91 254.55L135.13 254.1L135.35 253.64L135.57 253.19L135.78 252.73L136 252.27L136.22 251.81L136.44 251.36L136.66 250.9L136.88 250.44L137.1 249.98L137.32 249.51L137.54 249.05M139.52 244.89L139.74 244.43L139.96 243.97L140.17 243.51L140.39 243.05L140.61 242.59L140.83 242.13L141.05 241.67L141.27 241.21L141.49 240.75L141.71 240.29L141.93 239.84L142.15 239.38L142.37 238.93L142.59 238.47L142.81 238.02M144.78 233.99L145 233.55L145.22 233.11L145.44 232.68L145.66 232.24L145.88 231.81L146.1 231.37L146.32 230.94L146.54 230.51L146.76 230.08L146.98 229.66L147.2 229.23L147.42 228.81L147.64 228.39L147.86 227.98L148.08 227.56L148.3 227.15L148.52 226.73M150.71 222.74L150.93 222.35L151.15 221.97L151.37 221.58L151.59 221.2L151.81 220.83L152.03 220.45L152.25 220.08L152.47 219.71L152.69 219.35L152.91 218.98L153.13 218.62L153.34 218.26L153.56 217.9L153.78 217.55L154 217.2L154.22 216.85L154.44 216.51L154.66 216.16L154.88 215.82M157.52 211.95L157.73 211.65L157.95 211.35L158.17 211.05L158.39 210.75L158.61 210.46L158.83 210.17L159.05 209.88L159.27 209.6L159.49 209.31L159.71 209.03L159.93 208.76L160.15 208.48L160.37 208.21L160.59 207.94L160.81 207.67L161.03 207.41L161.25 207.15L161.47 206.89L161.69 206.64L161.91 206.38L162.12 206.13L162.34 205.89L162.56 205.64L162.78 205.4L163 205.16L163.22 204.92M167.17 201.07L167.39 200.88L167.61 200.69L167.83 200.51L168.05 200.32L168.27 200.14L168.49 199.96L168.71 199.78L168.93 199.6L169.15 199.43L169.37 199.26L169.59 199.09L169.81 198.92L170.03 198.76L170.25 198.59L170.47 198.43L170.69 198.27L170.91 198.12L171.12 197.96L171.34 197.81L171.56 197.66L171.78 197.51L172 197.36L172.22 197.21L172.44 197.07L172.66 196.93L172.88 196.79L173.1 196.65L173.32 196.51L173.54 196.38L173.76 196.24L173.98 196.11M178.15 193.92L178.37 193.82L178.59 193.72L178.81 193.63L179.03 193.53L179.25 193.44L179.47 193.34L179.69 193.25L179.9 193.16L180.12 193.07L180.34 192.98L180.56 192.89L180.78 192.81L181 192.72L181.22 192.64L181.44 192.55L181.66 192.47L181.88 192.39L182.1 192.31L182.32 192.24L182.54 192.16L182.76 192.08L182.98 192.01L183.2 191.93L183.42 191.86L183.64 191.79L183.86 191.72L184.07 191.65L184.29 191.58L184.51 191.51L184.73 191.44L184.95 191.38L185.17 191.31M189.12 190.29L189.34 190.24L189.56 190.2L189.78 190.15L190 190.1L190.22 190.05L190.44 190.01L190.66 189.96L190.88 189.92L191.1 189.87L191.32 189.83L191.54 189.79L191.76 189.75L191.98 189.71L192.2 189.66L192.42 189.62L192.64 189.59L192.86 189.55L193.07 189.51L193.29 189.47L193.51 189.43L193.73 189.4L193.95 189.36L194.17 189.32L194.39 189.29L194.61 189.26L194.83 189.22L195.05 189.19L195.27 189.15L195.49 189.12L195.71 189.09L195.93 189.06L196.15 189.03" fill="none" stroke="#ff1414" stroke-width="1.05"/>
<circle cx="58.96" cy="305.87" r="1.05" fill="#ff1414"/>
<circle cx="65.98" cy="305.6" r="1.05" fill="#ff1414"/>
<circle cx="73.01" cy="305.16" r="1.05" fill="#ff1414"/>
<circle cx="80.03" cy="304.43" r="1.05" fill="#ff1414"/>
<circle cx="87.06" cy="303.26" r="1.05" fill="#ff1414"/>
<circle cx="94.08" cy="301.4" r="1.05" fill="#ff1414"/>
<circle cx="101.1" cy="298.45" r="1.05" fill="#ff1414"/>
<circle cx="108.13" cy="293.94" r="1.05" fill="#ff1414"/>
<circle cx="115.15" cy="287.27" r="1.05" fill="#ff1414"/>
<circle cx="122.18" cy="277.95" r="1.05" fill="#ff1414"/>
<circle cx="129.2" cy="265.91" r="1.05" fill="#ff1414"/>
<circle cx="136.22" cy="251.81" r="1.05" fill="#ff1414"/>
<circle cx="143.25" cy="237.12" r="1.05" fill="#ff1414"/>
<circle cx="150.27" cy="223.52" r="1.05" fill="#ff1414"/>
<circle cx="157.3" cy="212.26" r="1.05" fill="#ff1414"/>
<circle cx="164.32" cy="203.77" r="1.05" fill="#ff1414"/>
<circle cx="171.34" cy="197.81" r="1.05" fill="#ff1414"/>
<circle cx="178.37" cy="193.82" r="1.05" fill="#ff1414"/>
<circle cx="185.39" cy="191.25" r="1.05" fill="#ff1414"/>
<circle cx="192.42" cy="189.62" r="1.05" fill="#ff1414"/>
<circle cx="199.44" cy="188.61" r="1.05" fill="#ff1414"/>
<path d="M58.96 305.86L59.18 305.85L59.4 305.84L59.62 305.84L59.84 305.83L60.06 305.82L60.28 305.81L60.5 305.81L60.72 305.8L60.94 305.79L61.16 305.78L61.37 305.78L61.59 305.77L61.81 305.76L62.03 305.75L62.25 305.74L62.47 305.73L62.69 305.72L62.91 305.72L63.13 305.71L63.35 305.7L63.57 305.69L63.79 305.68L64.01 305.67L64.23 305.66L64.45 305.65L64.67 305.64L64.89 305.63L65.11 305.62L65.33 305.61L65.55 305.6M69.5 305.37L69.72 305.36L69.94 305.34L70.15 305.33L70.37 305.31L70.59 305.3L70.81 305.28L71.03 305.27L71.25 305.25L71.47 305.23L71.69 305.22L71.91 305.2L72.13 305.18L72.35 305.17L72.57 305.15L72.79 305.13L73.01 305.11L73.23 305.09L73.45 305.08L73.67 305.06L73.89 305.04L74.11 305.02L74.32 305L74.54 304.98L74.76 304.96L74.98 304.94L75.2 304.92L75.42 304.9L75.64 304.87L75.86 304.85L76.08 304.83L76.3 304.81L76.52 304.78M80.47 304.3L80.69 304.27L80.91 304.24L81.13 304.21L81.35 304.18L81.57 304.15L81.79 304.11L82.01 304.08L82.23 304.04L82.45 304.01L82.67 303.98L82.89 303.94L83.1 303.9L83.32 303.87L83.54 303.83L83.76 303.79L83.98 303.75L84.2 303.71L84.42 303.68L84.64 303.64L84.86 303.59L85.08 303.55L85.3 303.51L85.52 303.47L85.74 303.43L85.96 303.38L86.18 303.34L86.4 303.29L86.62 303.25L86.84 303.2L87.06 303.15L87.28 303.1L87.5 303.06M91.67 301.99L91.88 301.92L92.1 301.86L92.32 301.79L92.54 301.72L92.76 301.65L92.98 301.58L93.2 301.51L93.42 301.44L93.64 301.37L93.86 301.29L94.08 301.22L94.3 301.14L94.52 301.06L94.74 300.99L94.96 300.91L95.18 300.83L95.4 300.75L95.62 300.66L95.84 300.58L96.06 300.49L96.28 300.41L96.49 300.32L96.71 300.23L96.93 300.14L97.15 300.05L97.37 299.96L97.59 299.86L97.81 299.77L98.03 299.67L98.25 299.58L98.47 299.48M102.64 297.32L102.86 297.19L103.08 297.06L103.3 296.92L103.52 296.79L103.74 296.65L103.96 296.51L104.18 296.37L104.4 296.23L104.62 296.09L104.84 295.94L105.05 295.79L105.27 295.64L105.49 295.49L105.71 295.34L105.93 295.18L106.15 295.03L106.37 294.87L106.59 294.71L106.81 294.54L107.03 294.38L107.25 294.21L107.47 294.04L107.69 293.87L107.91 293.7L108.13 293.52L108.35 293.34L108.57 293.16L108.79 292.98L109.01 292.79L109.23 292.61L109.44 292.42L109.66 292.23M113.62 288.38L113.83 288.14L114.05 287.9L114.27 287.66L114.49 287.41L114.71 287.17L114.93 286.92L115.15 286.66L115.37 286.41L115.59 286.15L115.81 285.89L116.03 285.63L116.25 285.36L116.47 285.09L116.69 284.82L116.91 284.54L117.13 284.27L117.35 283.99L117.57 283.7L117.79 283.42L118.01 283.13L118.22 282.84L118.44 282.55L118.66 282.25L118.88 281.95L119.1 281.65L119.32 281.35M121.96 277.48L122.18 277.14L122.4 276.79L122.62 276.45L122.83 276.1L123.05 275.75L123.27 275.4L123.49 275.04L123.71 274.68L123.93 274.32L124.15 273.95L124.37 273.59L124.59 273.22L124.81 272.85L125.03 272.47L125.25 272.1L125.47 271.72L125.69 271.33L125.91 270.95L126.13 270.56M128.32 266.57L128.54 266.15L128.76 265.74L128.98 265.32L129.2 264.91L129.42 264.49L129.64 264.07L129.86 263.64L130.08 263.22L130.3 262.79L130.52 262.36L130.74 261.93L130.96 261.49L131.18 261.06L131.39 260.62L131.61 260.19L131.83 259.75L132.05 259.31M134.03 255.28L134.25 254.83L134.47 254.37L134.69 253.92L134.91 253.46L135.13 253.01L135.35 252.55L135.57 252.09L135.78 251.63L136 251.17L136.22 250.71L136.44 250.25L136.66 249.79L136.88 249.33L137.1 248.87L137.32 248.41M139.3 244.25L139.52 243.79L139.74 243.32L139.96 242.86L140.17 242.4L140.39 241.94L140.61 241.49L140.83 241.03L141.05 240.57L141.27 240.11L141.49 239.66L141.71 239.2L141.93 238.75L142.15 238.29L142.37 237.84L142.59 237.39M144.56 233.38L144.78 232.94L145 232.5L145.22 232.07L145.44 231.63L145.66 231.2L145.88 230.77L146.1 230.34L146.32 229.91L146.54 229.49L146.76 229.07L146.98 228.64L147.2 228.23L147.42 227.81L147.64 227.39L147.86 226.98L148.08 226.57M150.27 222.58L150.49 222.2L150.71 221.81L150.93 221.43L151.15 221.05L151.37 220.68L151.59 220.3L151.81 219.93L152.03 219.57L152.25 219.2L152.47 218.84L152.69 218.48L152.91 218.12L153.13 217.76L153.34 217.41L153.56 217.06L153.78 216.71L154 216.37L154.22 216.03L154.44 215.69L154.66 215.35M157.3 211.53L157.52 211.23L157.73 210.93L157.95 210.64L158.17 210.34L158.39 210.05L158.61 209.77L158.83 209.48L159.05 209.2L159.27 208.92L159.49 208.65L159.71 208.37L159.93 208.1L160.15 207.83L160.37 207.57L160.59 207.31L160.81 207.05L161.03 206.79L161.25 206.54L161.47 206.28L161.69 206.03L161.91 205.79L162.12 205.54L162.34 205.3L162.56 205.06L162.78 204.83L163 204.59L163.22 204.36M167.17 200.62L167.39 200.43L167.61 200.25L167.83 200.07L168.05 199.89L168.27 199.71L168.49 199.54L168.71 199.36L168.93 199.19L169.15 199.02L169.37 198.86L169.59 198.69L169.81 198.53L170.03 198.37L170.25 198.21L170.47 198.05L170.69 197.9L170.91 197.75L171.12 197.6L171.34 197.45L171.56 197.3L171.78 197.16L172 197.01L172.22 196.87L172.44 196.73L172.66 196.59L172.88 196.46L173.1 196.32L173.32 196.19L173.54 196.06L173.76 195.93L173.98 195.81M178.15 193.69L178.37 193.59L178.59 193.49L178.81 193.4L179.03 193.3L179.25 193.21L179.47 193.12L179.69 193.03L179.9 192.94L180.12 192.86L180.34 192.77L180.56 192.69L180.78 192.6L181 192.52L181.22 192.44L181.44 192.36L181.66 192.28L181.88 192.2L182.1 192.13L182.32 192.05L182.54 191.98L182.76 191.9L182.98 191.83L183.2 191.76L183.42 191.69L183.64 191.62L183.86 191.55L184.07 191.48L184.29 191.42L184.51 191.35L184.73 191.29L184.95 191.22L185.17 191.16M189.12 190.18L189.34 190.13L189.56 190.08L189.78 190.04L190 189.99L190.22 189.94L190.44 189.9L190.66 189.86L190.88 189.81L191.1 189.77L191.32 189.73L191.54 189.69L191.76 189.65L191.98 189.61L192.2 189.57L192.42 189.53L192.64 189.49L192.86 189.46L193.07 189.42L193.29 189.38L193.51 189.35L193.73 189.31L193.95 189.28L194.17 189.24L194.39 189.21L194.61 189.17L194.83 189.14L195.05 189.11L195.27 189.08L195.49 189.05L195.71 189.01L195.93 188.98L196.15 188.95" fill="none" stroke="#2cf02c" stroke-width="1.05"/>
<text transform="translate(38.5 319.9) scale(1 1.06)" text-anchor="middle" font-size="10.8">-10</text>
<text transform="translate(82.4 319.9) scale(1 1.06)" text-anchor="middle" font-size="10.8">-5</text>
<text transform="translate(126.8 319.9) scale(1 1.06)" text-anchor="middle" font-size="10.8">0</text>
<text transform="translate(169.8 319.9) scale(1 1.06)" text-anchor="middle" font-size="10.8">5</text>
<text transform="translate(216 319.9) scale(1 1.06)" text-anchor="middle" font-size="10.8">10</text>
<text transform="translate(37.75 192.1) scale(1 1.06)" text-anchor="end" font-size="10.8">1</text>
<text transform="translate(37.75 215.06) scale(1 1.06)" text-anchor="end" font-size="10.8">0.8</text>
<text transform="translate(37.75 238.92) scale(1 1.06)" text-anchor="end" font-size="10.8">0.6</text>
<text transform="translate(37.75 262.78) scale(1 1.06)" text-anchor="end" font-size="10.8">0.4</text>
<text transform="translate(37.75 286.64) scale(1 1.06)" text-anchor="end" font-size="10.8">0.2</text>
<text transform="translate(37.75 309.5) scale(1 1.06)" text-anchor="end" font-size="10.8">0</text>
<text transform="translate(132.1 180.25) scale(1 1.06)" text-anchor="middle" font-size="10.8">Grid = 41 × 41</text>
<text transform="translate(129.5 333.3) scale(1 1.06)" text-anchor="middle" font-size="10.8">x</text>
<text transform="translate(14.4 247.99) rotate(-90) scale(1 1.0)" text-anchor="middle" font-size="11.1">u (x,t)</text>
<rect x="41.4" y="187" width="67.9" height="25.8" fill="#fff" stroke="#707070" stroke-width="1.3"/>
<path d="M46.6 194.2L46.88 194.2L47.16 194.2L47.43 194.2L47.71 194.2L47.99 194.2L48.27 194.2L48.55 194.2L48.82 194.2L49.1 194.2L49.38 194.2L49.66 194.2L49.94 194.2L50.21 194.2L50.49 194.2L50.77 194.2L51.05 194.2L51.33 194.2L51.6 194.2L51.88 194.2L52.16 194.2L52.44 194.2L52.72 194.2L52.99 194.2L53.27 194.2M57.16 194.2L57.44 194.2L57.72 194.2L58 194.2L58.28 194.2L58.55 194.2L58.83 194.2L59.11 194.2L59.39 194.2L59.67 194.2L59.94 194.2L60.22 194.2L60.5 194.2L60.78 194.2L61.06 194.2L61.33 194.2L61.61 194.2L61.89 194.2L62.17 194.2L62.45 194.2L62.72 194.2L63 194.2L63.28 194.2L63.56 194.2L63.84 194.2L64.11 194.2M68.28 194.2L68.56 194.2L68.84 194.2L69.12 194.2L69.4 194.2L69.67 194.2L69.95 194.2L70.23 194.2L70.51 194.2L70.79 194.2L71.06 194.2L71.34 194.2L71.62 194.2L71.9 194.2L72.18 194.2L72.45 194.2L72.73 194.2L73.01 194.2L73.29 194.2L73.57 194.2L73.84 194.2L74.12 194.2L74.4 194.2" stroke="#2cf02c" stroke-width="1.05" fill="none"/>
<path d="M46.6 205.4L46.88 205.4L47.16 205.4L47.43 205.4L47.71 205.4L47.99 205.4L48.27 205.4L48.55 205.4L48.82 205.4L49.1 205.4L49.38 205.4L49.66 205.4L49.94 205.4L50.21 205.4L50.49 205.4L50.77 205.4L51.05 205.4L51.33 205.4L51.6 205.4L51.88 205.4L52.16 205.4L52.44 205.4L52.72 205.4L52.99 205.4L53.27 205.4M57.16 205.4L57.44 205.4L57.72 205.4L58 205.4L58.28 205.4L58.55 205.4L58.83 205.4L59.11 205.4L59.39 205.4L59.67 205.4L59.94 205.4L60.22 205.4L60.5 205.4L60.78 205.4L61.06 205.4L61.33 205.4L61.61 205.4L61.89 205.4L62.17 205.4L62.45 205.4L62.72 205.4L63 205.4L63.28 205.4L63.56 205.4L63.84 205.4L64.11 205.4M68.28 205.4L68.56 205.4L68.84 205.4L69.12 205.4L69.4 205.4L69.67 205.4L69.95 205.4L70.23 205.4L70.51 205.4L70.79 205.4L71.06 205.4L71.34 205.4L71.62 205.4L71.9 205.4L72.18 205.4L72.45 205.4L72.73 205.4L73.01 205.4L73.29 205.4L73.57 205.4L73.84 205.4L74.12 205.4L74.4 205.4" stroke="#ff1414" stroke-width="0.8" fill="none"/>
<circle cx="60.7" cy="205.5" r="1.05" fill="#ff1414"/>
<text transform="translate(77.2 198) scale(1 1.04)" font-size="9.0">CN</text>
<text transform="translate(77.2 209.5) scale(1 1.04)" font-size="9.0">Exact u</text>
</g>
<g>
<path d="M272.4 306.95V187H448.5" fill="none" stroke="#707070" stroke-width="1.3" stroke-linejoin="miter"/>
<path d="M272.4 306.3H448.55" fill="none" stroke="#7a7a7a" stroke-width="1.2"/>
<path d="M448 187V306.3" fill="none" stroke="#868686" stroke-width="1.15"/>
<path d="M316.3 306.3v-1.9M316.3 187v1.9" stroke="#585858" stroke-width="0.9" fill="none"/>
<path d="M360.2 306.3v-1.9M360.2 187v1.9" stroke="#585858" stroke-width="0.9" fill="none"/>
<path d="M404.1 306.3v-1.9M404.1 187v1.9" stroke="#585858" stroke-width="0.9" fill="none"/>
<path d="M272.4 210.86h1.9M448 210.86h-1.9" stroke="#585858" stroke-width="0.9" fill="none"/>
<path d="M272.4 234.72h1.9M448 234.72h-1.9" stroke="#585858" stroke-width="0.9" fill="none"/>
<path d="M272.4 258.58h1.9M448 258.58h-1.9" stroke="#585858" stroke-width="0.9" fill="none"/>
<path d="M272.4 282.44h1.9M448 282.44h-1.9" stroke="#585858" stroke-width="0.9" fill="none"/>
<path d="M289.96 187.43L290.18 187.43L290.4 187.44L290.62 187.45L290.84 187.45L291.06 187.46L291.28 187.47L291.5 187.48L291.72 187.48L291.94 187.49L292.15 187.5L292.37 187.51L292.59 187.51L292.81 187.52L293.03 187.53L293.25 187.54L293.47 187.55L293.69 187.55L293.91 187.56L294.13 187.57L294.35 187.58L294.57 187.59L294.79 187.6L295.01 187.61L295.23 187.62L295.45 187.63L295.67 187.64L295.89 187.65L296.11 187.66L296.33 187.67L296.54 187.68M300.5 187.89L300.72 187.91L300.94 187.92L301.15 187.94L301.37 187.95L301.59 187.97L301.81 187.98L302.03 188L302.25 188.01L302.47 188.03L302.69 188.04L302.91 188.06L303.13 188.08L303.35 188.09L303.57 188.11L303.79 188.13L304.01 188.14L304.23 188.16L304.45 188.18L304.67 188.2L304.89 188.22L305.11 188.24L305.32 188.25L305.54 188.27L305.76 188.29L305.98 188.31L306.2 188.33L306.42 188.35L306.64 188.37L306.86 188.4L307.08 188.42L307.3 188.44L307.52 188.46M311.47 188.92L311.69 188.95L311.91 188.98L312.13 189.01L312.35 189.05L312.57 189.08L312.79 189.11L313.01 189.14L313.23 189.17L313.45 189.21L313.67 189.24L313.89 189.28L314.1 189.31L314.32 189.35L314.54 189.38L314.76 189.42L314.98 189.46L315.2 189.49L315.42 189.53L315.64 189.57L315.86 189.61L316.08 189.65L316.3 189.69L316.52 189.73L316.74 189.77L316.96 189.81L317.18 189.86L317.4 189.9L317.62 189.94L317.84 189.99L318.06 190.04L318.28 190.08L318.5 190.13M322.67 191.16L322.88 191.22L323.1 191.29L323.32 191.35L323.54 191.42L323.76 191.48L323.98 191.55L324.2 191.62L324.42 191.69L324.64 191.76L324.86 191.83L325.08 191.9L325.3 191.98L325.52 192.05L325.74 192.13L325.96 192.2L326.18 192.28L326.4 192.36L326.62 192.44L326.84 192.52L327.06 192.6L327.27 192.69L327.49 192.77L327.71 192.86L327.93 192.94L328.15 193.03L328.37 193.12L328.59 193.21L328.81 193.3L329.03 193.4L329.25 193.49L329.47 193.59M333.64 195.68L333.86 195.81L334.08 195.93L334.3 196.06L334.52 196.19L334.74 196.32L334.96 196.46L335.18 196.59L335.4 196.73L335.62 196.87L335.84 197.01L336.05 197.16L336.27 197.3L336.49 197.45L336.71 197.6L336.93 197.75L337.15 197.9L337.37 198.05L337.59 198.21L337.81 198.37L338.03 198.53L338.25 198.69L338.47 198.86L338.69 199.02L338.91 199.19L339.13 199.36L339.35 199.54L339.57 199.71L339.79 199.89L340.01 200.07L340.23 200.25L340.44 200.43L340.66 200.62M344.62 204.36L344.83 204.59L345.05 204.83L345.27 205.06L345.49 205.3L345.71 205.54L345.93 205.79L346.15 206.03L346.37 206.28L346.59 206.54L346.81 206.79L347.03 207.05L347.25 207.31L347.47 207.57L347.69 207.83L347.91 208.1L348.13 208.37L348.35 208.65L348.57 208.92L348.79 209.2L349.01 209.48L349.22 209.77L349.44 210.05L349.66 210.34L349.88 210.64L350.1 210.93L350.32 211.23M353.18 215.35L353.4 215.69L353.62 216.03L353.83 216.37L354.05 216.71L354.27 217.06L354.49 217.41L354.71 217.76L354.93 218.12L355.15 218.48L355.37 218.84L355.59 219.2L355.81 219.57L356.03 219.93L356.25 220.3L356.47 220.68L356.69 221.05L356.91 221.43L357.13 221.81L357.35 222.2M359.76 226.57L359.98 226.98L360.2 227.39L360.42 227.81L360.64 228.23L360.86 228.64L361.08 229.07L361.3 229.49L361.52 229.91L361.74 230.34L361.96 230.77L362.18 231.2L362.39 231.63L362.61 232.07L362.83 232.5L363.05 232.94L363.27 233.38M365.25 237.39L365.47 237.84L365.69 238.29L365.91 238.75L366.13 239.2L366.35 239.66L366.57 240.11L366.78 240.57L367 241.03L367.22 241.49L367.44 241.94L367.66 242.4L367.88 242.86L368.1 243.32L368.32 243.79L368.54 244.25M370.52 248.41L370.74 248.87L370.96 249.33L371.17 249.79L371.39 250.25L371.61 250.71L371.83 251.17L372.05 251.63L372.27 252.09L372.49 252.55L372.71 253.01L372.93 253.46L373.15 253.92L373.37 254.37L373.59 254.83L373.81 255.28M375.78 259.31L376 259.75L376.22 260.19L376.44 260.62L376.66 261.06L376.88 261.49L377.1 261.93L377.32 262.36L377.54 262.79L377.76 263.22L377.98 263.64L378.2 264.07L378.42 264.49L378.64 264.91L378.86 265.32L379.08 265.74L379.3 266.15L379.52 266.57M381.71 270.56L381.93 270.95L382.15 271.33L382.37 271.72L382.59 272.1L382.81 272.47L383.03 272.85L383.25 273.22L383.47 273.59L383.69 273.95L383.91 274.32L384.13 274.68L384.34 275.04L384.56 275.4L384.78 275.75L385 276.1L385.22 276.45L385.44 276.79L385.66 277.14L385.88 277.48M388.52 281.35L388.73 281.65L388.95 281.95L389.17 282.25L389.39 282.55L389.61 282.84L389.83 283.13L390.05 283.42L390.27 283.7L390.49 283.99L390.71 284.27L390.93 284.54L391.15 284.82L391.37 285.09L391.59 285.36L391.81 285.63L392.03 285.89L392.25 286.15L392.47 286.41L392.69 286.66L392.91 286.92L393.12 287.17L393.34 287.41L393.56 287.66L393.78 287.9L394 288.14L394.22 288.38M398.17 292.23L398.39 292.42L398.61 292.61L398.83 292.79L399.05 292.98L399.27 293.16L399.49 293.34L399.71 293.52L399.93 293.7L400.15 293.87L400.37 294.04L400.59 294.21L400.81 294.38L401.03 294.54L401.25 294.71L401.47 294.87L401.69 295.03L401.9 295.18L402.12 295.34L402.34 295.49L402.56 295.64L402.78 295.79L403 295.94L403.22 296.09L403.44 296.23L403.66 296.37L403.88 296.51L404.1 296.65L404.32 296.79L404.54 296.92L404.76 297.06L404.98 297.19M409.15 299.38L409.37 299.48L409.59 299.58L409.81 299.67L410.03 299.77L410.25 299.86L410.47 299.96L410.68 300.05L410.9 300.14L411.12 300.23L411.34 300.32L411.56 300.41L411.78 300.49L412 300.58L412.22 300.66L412.44 300.75L412.66 300.83L412.88 300.91L413.1 300.99L413.32 301.06L413.54 301.14L413.76 301.22L413.98 301.29L414.2 301.37L414.42 301.44L414.64 301.51L414.86 301.58L415.07 301.65L415.29 301.72L415.51 301.79L415.73 301.86L415.95 301.92L416.17 301.99M420.12 303.01L420.34 303.06L420.56 303.1L420.78 303.15L421 303.2L421.22 303.25L421.44 303.29L421.66 303.34L421.88 303.38L422.1 303.43L422.32 303.47L422.54 303.51L422.76 303.55L422.98 303.59L423.2 303.64L423.42 303.68L423.64 303.71L423.86 303.75L424.07 303.79L424.29 303.83L424.51 303.87L424.73 303.9L424.95 303.94L425.17 303.98L425.39 304.01L425.61 304.04L425.83 304.08L426.05 304.11L426.27 304.15L426.49 304.18L426.71 304.21L426.93 304.24L427.15 304.27" fill="none" stroke="#ff1414" stroke-width="1.05"/>
<circle cx="289.96" cy="187.43" r="1.05" fill="#ff1414"/>
<circle cx="296.98" cy="187.7" r="1.05" fill="#ff1414"/>
<circle cx="304.01" cy="188.14" r="1.05" fill="#ff1414"/>
<circle cx="311.03" cy="188.87" r="1.05" fill="#ff1414"/>
<circle cx="318.06" cy="190.04" r="1.05" fill="#ff1414"/>
<circle cx="325.08" cy="191.9" r="1.05" fill="#ff1414"/>
<circle cx="332.1" cy="194.85" r="1.05" fill="#ff1414"/>
<circle cx="339.13" cy="199.36" r="1.05" fill="#ff1414"/>
<circle cx="346.15" cy="206.03" r="1.05" fill="#ff1414"/>
<circle cx="353.18" cy="215.35" r="1.05" fill="#ff1414"/>
<circle cx="360.2" cy="227.39" r="1.05" fill="#ff1414"/>
<circle cx="367.22" cy="241.49" r="1.05" fill="#ff1414"/>
<circle cx="374.25" cy="256.18" r="1.05" fill="#ff1414"/>
<circle cx="381.27" cy="269.78" r="1.05" fill="#ff1414"/>
<circle cx="388.3" cy="281.04" r="1.05" fill="#ff1414"/>
<circle cx="395.32" cy="289.53" r="1.05" fill="#ff1414"/>
<circle cx="402.34" cy="295.49" r="1.05" fill="#ff1414"/>
<circle cx="409.37" cy="299.48" r="1.05" fill="#ff1414"/>
<circle cx="416.39" cy="302.05" r="1.05" fill="#ff1414"/>
<circle cx="423.42" cy="303.68" r="1.05" fill="#ff1414"/>
<circle cx="430.44" cy="304.69" r="1.05" fill="#ff1414"/>
<path d="M289.96 187.44L290.18 187.45L290.4 187.46L290.62 187.46L290.84 187.47L291.06 187.48L291.28 187.49L291.5 187.49L291.72 187.5L291.94 187.51L292.15 187.52L292.37 187.52L292.59 187.53L292.81 187.54L293.03 187.55L293.25 187.56L293.47 187.57L293.69 187.58L293.91 187.58L294.13 187.59L294.35 187.6L294.57 187.61L294.79 187.62L295.01 187.63L295.23 187.64L295.45 187.65L295.67 187.66L295.89 187.67L296.11 187.68L296.33 187.69L296.54 187.7M300.5 187.93L300.72 187.94L300.94 187.96L301.15 187.97L301.37 187.99L301.59 188L301.81 188.02L302.03 188.03L302.25 188.05L302.47 188.07L302.69 188.08L302.91 188.1L303.13 188.12L303.35 188.13L303.57 188.15L303.79 188.17L304.01 188.19L304.23 188.21L304.45 188.22L304.67 188.24L304.89 188.26L305.11 188.28L305.32 188.3L305.54 188.32L305.76 188.34L305.98 188.36L306.2 188.38L306.42 188.4L306.64 188.43L306.86 188.45L307.08 188.47L307.3 188.49L307.52 188.52M311.47 189L311.69 189.03L311.91 189.06L312.13 189.09L312.35 189.12L312.57 189.15L312.79 189.19L313.01 189.22L313.23 189.26L313.45 189.29L313.67 189.32L313.89 189.36L314.1 189.4L314.32 189.43L314.54 189.47L314.76 189.51L314.98 189.55L315.2 189.59L315.42 189.62L315.64 189.66L315.86 189.71L316.08 189.75L316.3 189.79L316.52 189.83L316.74 189.87L316.96 189.92L317.18 189.96L317.4 190.01L317.62 190.05L317.84 190.1L318.06 190.15L318.28 190.2L318.5 190.24M322.67 191.31L322.88 191.38L323.1 191.44L323.32 191.51L323.54 191.58L323.76 191.65L323.98 191.72L324.2 191.79L324.42 191.86L324.64 191.93L324.86 192.01L325.08 192.08L325.3 192.16L325.52 192.24L325.74 192.31L325.96 192.39L326.18 192.47L326.4 192.55L326.62 192.64L326.84 192.72L327.06 192.81L327.27 192.89L327.49 192.98L327.71 193.07L327.93 193.16L328.15 193.25L328.37 193.34L328.59 193.44L328.81 193.53L329.03 193.63L329.25 193.72L329.47 193.82M333.64 195.98L333.86 196.11L334.08 196.24L334.3 196.38L334.52 196.51L334.74 196.65L334.96 196.79L335.18 196.93L335.4 197.07L335.62 197.21L335.84 197.36L336.05 197.51L336.27 197.66L336.49 197.81L336.71 197.96L336.93 198.12L337.15 198.27L337.37 198.43L337.59 198.59L337.81 198.76L338.03 198.92L338.25 199.09L338.47 199.26L338.69 199.43L338.91 199.6L339.13 199.78L339.35 199.96L339.57 200.14L339.79 200.32L340.01 200.51L340.23 200.69L340.44 200.88L340.66 201.07M344.62 204.92L344.83 205.16L345.05 205.4L345.27 205.64L345.49 205.89L345.71 206.13L345.93 206.38L346.15 206.64L346.37 206.89L346.59 207.15L346.81 207.41L347.03 207.67L347.25 207.94L347.47 208.21L347.69 208.48L347.91 208.76L348.13 209.03L348.35 209.31L348.57 209.6L348.79 209.88L349.01 210.17L349.22 210.46L349.44 210.75L349.66 211.05L349.88 211.35L350.1 211.65L350.32 211.95M352.96 215.82L353.18 216.16L353.4 216.51L353.62 216.85L353.83 217.2L354.05 217.55L354.27 217.9L354.49 218.26L354.71 218.62L354.93 218.98L355.15 219.35L355.37 219.71L355.59 220.08L355.81 220.45L356.03 220.83L356.25 221.2L356.47 221.58L356.69 221.97L356.91 222.35L357.13 222.74M359.32 226.73L359.54 227.15L359.76 227.56L359.98 227.98L360.2 228.39L360.42 228.81L360.64 229.23L360.86 229.66L361.08 230.08L361.3 230.51L361.52 230.94L361.74 231.37L361.96 231.81L362.18 232.24L362.39 232.68L362.61 233.11L362.83 233.55L363.05 233.99M365.03 238.02L365.25 238.47L365.47 238.93L365.69 239.38L365.91 239.84L366.13 240.29L366.35 240.75L366.57 241.21L366.78 241.67L367 242.13L367.22 242.59L367.44 243.05L367.66 243.51L367.88 243.97L368.1 244.43L368.32 244.89M370.3 249.05L370.52 249.51L370.74 249.98L370.96 250.44L371.17 250.9L371.39 251.36L371.61 251.81L371.83 252.27L372.05 252.73L372.27 253.19L372.49 253.64L372.71 254.1L372.93 254.55L373.15 255.01L373.37 255.46L373.59 255.91M375.56 259.92L375.78 260.36L376 260.8L376.22 261.23L376.44 261.67L376.66 262.1L376.88 262.53L377.1 262.96L377.32 263.39L377.54 263.81L377.76 264.23L377.98 264.66L378.2 265.07L378.42 265.49L378.64 265.91L378.86 266.32L379.08 266.73M381.27 270.72L381.49 271.1L381.71 271.49L381.93 271.87L382.15 272.25L382.37 272.62L382.59 273L382.81 273.37L383.03 273.73L383.25 274.1L383.47 274.46L383.69 274.82L383.91 275.18L384.13 275.54L384.34 275.89L384.56 276.24L384.78 276.59L385 276.93L385.22 277.27L385.44 277.61L385.66 277.95M388.3 281.77L388.52 282.07L388.73 282.37L388.95 282.66L389.17 282.96L389.39 283.25L389.61 283.53L389.83 283.82L390.05 284.1L390.27 284.38L390.49 284.65L390.71 284.93L390.93 285.2L391.15 285.47L391.37 285.73L391.59 285.99L391.81 286.25L392.03 286.51L392.25 286.76L392.47 287.02L392.69 287.27L392.91 287.51L393.12 287.76L393.34 288L393.56 288.24L393.78 288.47L394 288.71L394.22 288.94M398.17 292.68L398.39 292.87L398.61 293.05L398.83 293.23L399.05 293.41L399.27 293.59L399.49 293.76L399.71 293.94L399.93 294.11L400.15 294.28L400.37 294.44L400.59 294.61L400.81 294.77L401.03 294.93L401.25 295.09L401.47 295.25L401.69 295.4L401.9 295.55L402.12 295.7L402.34 295.85L402.56 296L402.78 296.14L403 296.29L403.22 296.43L403.44 296.57L403.66 296.71L403.88 296.84L404.1 296.98L404.32 297.11L404.54 297.24L404.76 297.37L404.98 297.49M409.15 299.61L409.37 299.71L409.59 299.81L409.81 299.9L410.03 300L410.25 300.09L410.47 300.18L410.68 300.27L410.9 300.36L411.12 300.44L411.34 300.53L411.56 300.61L411.78 300.7L412 300.78L412.22 300.86L412.44 300.94L412.66 301.02L412.88 301.1L413.1 301.17L413.32 301.25L413.54 301.32L413.76 301.4L413.98 301.47L414.2 301.54L414.42 301.61L414.64 301.68L414.86 301.75L415.07 301.82L415.29 301.88L415.51 301.95L415.73 302.01L415.95 302.08L416.17 302.14M420.12 303.12L420.34 303.17L420.56 303.22L420.78 303.26L421 303.31L421.22 303.36L421.44 303.4L421.66 303.44L421.88 303.49L422.1 303.53L422.32 303.57L422.54 303.61L422.76 303.65L422.98 303.69L423.2 303.73L423.42 303.77L423.64 303.81L423.86 303.84L424.07 303.88L424.29 303.92L424.51 303.95L424.73 303.99L424.95 304.02L425.17 304.06L425.39 304.09L425.61 304.13L425.83 304.16L426.05 304.19L426.27 304.22L426.49 304.25L426.71 304.29L426.93 304.32L427.15 304.35" fill="none" stroke="#2cf02c" stroke-width="1.05"/>
<text transform="translate(269.1 319.9) scale(1 1.06)" text-anchor="middle" font-size="10.8">-10</text>
<text transform="translate(312.8 319.9) scale(1 1.06)" text-anchor="middle" font-size="10.8">-5</text>
<text transform="translate(357.2 319.9) scale(1 1.06)" text-anchor="middle" font-size="10.8">0</text>
<text transform="translate(400.65 319.9) scale(1 1.06)" text-anchor="middle" font-size="10.8">5</text>
<text transform="translate(446.2 319.9) scale(1 1.06)" text-anchor="middle" font-size="10.8">10</text>
<text transform="translate(267.85 192.3) scale(1 1.06)" text-anchor="end" font-size="10.8">1</text>
<text transform="translate(267.85 215.26) scale(1 1.06)" text-anchor="end" font-size="10.8">0.8</text>
<text transform="translate(267.85 239.12) scale(1 1.06)" text-anchor="end" font-size="10.8">0.6</text>
<text transform="translate(267.85 262.98) scale(1 1.06)" text-anchor="end" font-size="10.8">0.4</text>
<text transform="translate(267.85 286.84) scale(1 1.06)" text-anchor="end" font-size="10.8">0.2</text>
<text transform="translate(267.85 309.7) scale(1 1.06)" text-anchor="end" font-size="10.8">0</text>
<text transform="translate(360.8 180.25) scale(1 1.06)" text-anchor="middle" font-size="10.8">Grid = 41 × 41</text>
<text transform="translate(359.5 333.3) scale(1 1.06)" text-anchor="middle" font-size="10.8">x</text>
<text transform="translate(245.4 247.45) rotate(-90) scale(1 1.0)" text-anchor="middle" font-size="11.1">v (x,t)</text>
<rect x="379.7" y="187" width="68.3" height="25.8" fill="#fff" stroke="#707070" stroke-width="1.3"/>
<path d="M384.9 194.2L385.18 194.2L385.46 194.2L385.73 194.2L386.01 194.2L386.29 194.2L386.57 194.2L386.85 194.2L387.12 194.2L387.4 194.2L387.68 194.2L387.96 194.2L388.24 194.2L388.51 194.2L388.79 194.2L389.07 194.2L389.35 194.2L389.63 194.2L389.9 194.2L390.18 194.2L390.46 194.2L390.74 194.2L391.02 194.2L391.29 194.2L391.57 194.2M395.46 194.2L395.74 194.2L396.02 194.2L396.3 194.2L396.58 194.2L396.85 194.2L397.13 194.2L397.41 194.2L397.69 194.2L397.97 194.2L398.24 194.2L398.52 194.2L398.8 194.2L399.08 194.2L399.36 194.2L399.63 194.2L399.91 194.2L400.19 194.2L400.47 194.2L400.75 194.2L401.02 194.2L401.3 194.2L401.58 194.2L401.86 194.2L402.14 194.2L402.41 194.2M406.58 194.2L406.86 194.2L407.14 194.2L407.42 194.2L407.7 194.2L407.97 194.2L408.25 194.2L408.53 194.2L408.81 194.2L409.09 194.2L409.36 194.2L409.64 194.2L409.92 194.2L410.2 194.2L410.48 194.2L410.75 194.2L411.03 194.2L411.31 194.2L411.59 194.2L411.87 194.2L412.14 194.2L412.42 194.2L412.7 194.2" stroke="#2cf02c" stroke-width="1.05" fill="none"/>
<path d="M384.9 205.4L385.18 205.4L385.46 205.4L385.73 205.4L386.01 205.4L386.29 205.4L386.57 205.4L386.85 205.4L387.12 205.4L387.4 205.4L387.68 205.4L387.96 205.4L388.24 205.4L388.51 205.4L388.79 205.4L389.07 205.4L389.35 205.4L389.63 205.4L389.9 205.4L390.18 205.4L390.46 205.4L390.74 205.4L391.02 205.4L391.29 205.4L391.57 205.4M395.46 205.4L395.74 205.4L396.02 205.4L396.3 205.4L396.58 205.4L396.85 205.4L397.13 205.4L397.41 205.4L397.69 205.4L397.97 205.4L398.24 205.4L398.52 205.4L398.8 205.4L399.08 205.4L399.36 205.4L399.63 205.4L399.91 205.4L400.19 205.4L400.47 205.4L400.75 205.4L401.02 205.4L401.3 205.4L401.58 205.4L401.86 205.4L402.14 205.4L402.41 205.4M406.58 205.4L406.86 205.4L407.14 205.4L407.42 205.4L407.7 205.4L407.97 205.4L408.25 205.4L408.53 205.4L408.81 205.4L409.09 205.4L409.36 205.4L409.64 205.4L409.92 205.4L410.2 205.4L410.48 205.4L410.75 205.4L411.03 205.4L411.31 205.4L411.59 205.4L411.87 205.4L412.14 205.4L412.42 205.4L412.7 205.4" stroke="#ff1414" stroke-width="0.8" fill="none"/>
<circle cx="399" cy="205.5" r="1.05" fill="#ff1414"/>
<text transform="translate(416.7 198) scale(1 1.04)" font-size="8.75">CN</text>
<text transform="translate(416.7 209.5) scale(1 1.04)" font-size="8.75">Exact v</text>
</g>
</svg>
</body></html>
